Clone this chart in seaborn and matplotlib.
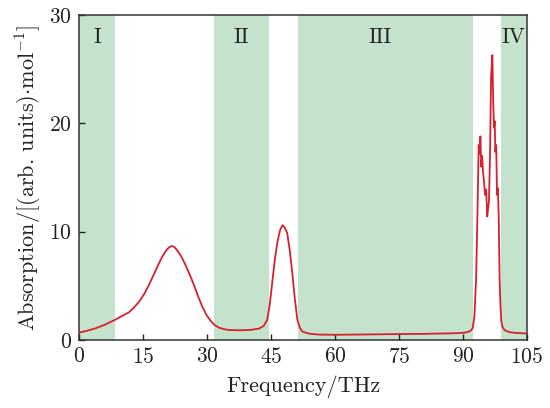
import numpy as np
import pandas as pd
import matplotlib
matplotlib.use("Agg")
import matplotlib.pyplot as plt
import seaborn as sns

freq = [0, 2, 3.9, 6, 8.4, 10, 11.7, 12.9, 14.1, 15.3, 16.4, 17.6, 18.75, 19.6, 20.5, 21.1, 21.7,
        22.3, 23.0, 24.0, 25.0, 26.0, 26.95, 27.9, 28.9, 29.9, 30.9, 31.8, 32.8, 34.0, 35.2, 37.5,
        40, 42.2, 43.3, 44.1, 44.7, 45.3, 45.9, 46.5, 47.1, 47.7, 48.2, 48.8, 49.4, 50, 50.6, 51.2,
        51.8, 52.4, 54, 56.2, 60, 65, 70, 75, 80, 85, 88, 90, 91, 91.8, 92.3, 92.7, 93.1, 93.4,
        93.7, 93.9, 94.1, 94.3, 94.5, 94.7, 94.9, 95.2, 95.45, 95.7, 95.9, 96.1, 96.35, 96.6, 96.9,
        97.1, 97.3, 97.45, 97.6, 97.8, 98.0, 98.2, 98.4, 98.6, 98.8, 99.0, 99.3, 99.7, 100.2, 101,
        102.5, 105]
absorb = [0.68, 0.86, 1.08, 1.4, 1.85, 2.2, 2.55, 3.0, 3.54, 4.25, 5.08, 6.1, 7.08, 7.75, 8.3, 8.55,
          8.68, 8.6, 8.3, 7.7, 6.9, 6.0, 5.08, 4.05, 3.08, 2.3, 1.75, 1.38, 1.14, 1.0, 0.92, 0.9,
          0.92, 1.05, 1.3, 1.85, 3.2, 5.3, 7.4, 9.0, 10.1, 10.6, 10.4, 9.9, 8.3, 6.2, 3.8, 1.85,
          1.1, 0.77, 0.58, 0.5, 0.48, 0.5, 0.52, 0.55, 0.56, 0.6, 0.62, 0.66, 0.72, 0.85, 1.1, 2.2,
          5.7, 11.5, 18.0, 17.2, 18.8, 16.0, 17.0, 15.6, 14.8, 13.4, 13.9, 11.4, 12.1, 12.8, 17.0,
          24.2, 26.3, 22.0, 19.6, 20.2, 17.4, 18.0, 13.4, 14.0, 11.3, 5.7, 3.2, 1.7, 1.2, 0.95,
          0.82, 0.72, 0.65, 0.6]

regions = [(0, 8.4), (31.6, 44.6), (51.3, 92.3), (98.9, 105)]
region_labels = ["I", "II", "III", "IV"]
label_x = [4.2, 38.1, 70.5, 101.8]

sns.set_theme(style="ticks")
plt.rcParams["font.family"] = ["cmr10", "DejaVu Serif"]
plt.rcParams["mathtext.fontset"] = "cm"
plt.rcParams["axes.formatter.use_mathtext"] = True

fig = plt.figure(figsize=(5.5, 4.08), dpi=100)
ax = fig.add_axes([0.1436, 0.1667, 0.958 - 0.1436, 0.963 - 0.1667])

for (a, b) in regions:
    ax.axvspan(a, b, color="#c5e3cc", lw=0, zorder=0)

df = pd.DataFrame({"freq": freq, "absorb": absorb})
sns.lineplot(data=df, x="freq", y="absorb", ax=ax, color="#d9202e", lw=1.3, zorder=3)

for lab, x in zip(region_labels, label_x):
    ax.text(x, 28.0, lab, ha="center", va="center", fontsize=15.5, color="#222222")

ax.set_xlim(0, 105)
ax.set_ylim(0, 30)
ax.set_xticks(np.arange(0, 106, 15))
ax.set_yticks([0, 10, 20, 30])
ax.tick_params(direction="in", length=4, width=1, labelsize=15.5, colors="#222222", pad=5)
for s in ax.spines.values():
    s.set_visible(True)
    s.set_color("#333333")
    s.set_linewidth(1.1)
ax.set_xlabel("Frequency/THz", fontsize=16, labelpad=6, color="#222222")
ax.set_ylabel(r"Absorption/[(arb. units)$\cdot$mol$^{-1}$]", fontsize=16, labelpad=4, color="#222222")

fig.savefig("out.png", dpi=100)
